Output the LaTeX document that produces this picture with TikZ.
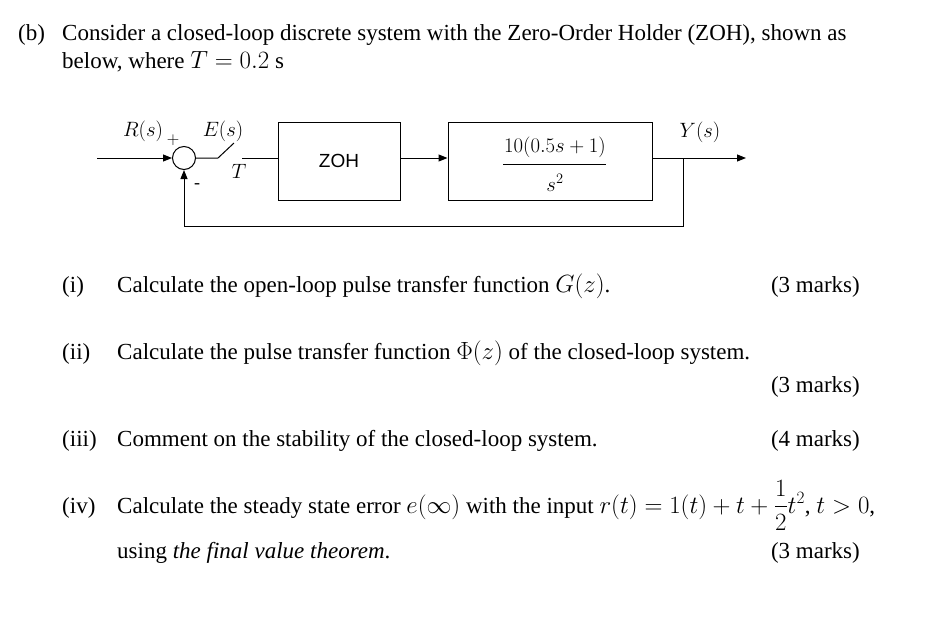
\documentclass[tikz,border=0pt]{standalone}
\usepackage{fontspec}
\usepackage{amsmath}
\setmainfont{Liberation Serif}
\newfontfamily\sansf{Liberation Sans}
\usetikzlibrary{arrows.meta}
\begin{document}
\begin{tikzpicture}
		[x=1pt, y=-1pt, every node/.style={inner sep=0pt, font=\fontsize{23}{27}\selectfont},
		blk/.style={draw, line width=1pt, minimum width=122pt, minimum height=78pt},
		sig/.style={line width=1pt, -{Triangle[length=9pt, width=7pt]}},
		wire/.style={line width=1pt}]
		\useasboundingbox (0,0) rectangle (950,627);
		% question text
		\node[anchor=base west] (qb) at (18,40) {(b)};
		\node[anchor=base west] (q1) at (62,40) {Consider a closed-loop discrete system with the Zero-Order Holder (ZOH), shown as};
		\node[anchor=base west] (q2) at (62,68) {below, where $T=0.2$ s};
		
		% block diagram
		\coordinate (in) at (97,158);
		\node[circle, draw, line width=1pt, minimum size=23pt] (sum) at (184,158) {};
		\coordinate (sw1) at (218,158);
		\coordinate (sw2) at (234,143);
		\coordinate (sw3) at (242,158);
		\node[blk, font=\sansf\fontsize{19}{22}\selectfont] (zoh) at (339,161) {ZOH};
		\node[blk, minimum width=204pt] (plant) at (550,161) {};
		\node (num) at (555,147) {\fontsize{21}{24}\selectfont$10(0.5s+1)$};
		\node (den) at (555,183) {\fontsize{20}{24}\selectfont$s^2$};
		\coordinate (fb) at (683,158);
		\coordinate (out) at (746,158);
		\coordinate (fb1) at (683,226);
		\coordinate (fb2) at (184,226);
		\draw[line width=0.8pt] (503,164) -- (606,164);
		
		\node (rlab) at (143,131) {\fontsize{21}{24}\selectfont$R(s)$};
		\node (plus) at (173,140) {\fontsize{18}{20}\selectfont$+$};
		\node (elab) at (223,131) {\fontsize{21}{24}\selectfont$E(s)$};
		\node (tlab) at (239,171) {\fontsize{21}{24}\selectfont$T$};
		\node (ylab) at (700,132) {\fontsize{21}{24}\selectfont$Y(s)$};
		\node (minus) at (197,186) {\fontsize{18}{20}\selectfont-};
		
		\draw[sig] (in) -- (sum.west);
		\draw[wire] (sum.east) -- (sw1) -- (sw2);
		\draw[wire] (sw3) -- (zoh.west |- sw3);
		\draw[sig] (zoh.east |- sw3) -- (plant.west |- sw3);
		\draw[sig] (plant.east |- sw3) -- (out);
		\draw[sig] (fb) -- (fb1) -- (fb2) -- (sum.south);
		
		% parts
		\node[anchor=base west] (pi) at (62,292) {(i)};
		\node[anchor=base west] (ti) at (117,292) {Calculate the open-loop pulse transfer function $G(z)$.};
		\node[anchor=base east] (mi) at (860,292) {(3 marks)};
		\node[anchor=base west] (pii) at (62,359) {(ii)};
		\node[anchor=base west] (tii) at (117,359) {Calculate the pulse transfer function $\Phi(z)$ of the closed-loop system.};
		\node[anchor=base east] (mii) at (860,392) {(3 marks)};
		\node[anchor=base west] (piii) at (62,446) {(iii)};
		\node[anchor=base west] (tiii) at (117,446) {Comment on the stability of the closed-loop system.};
		\node[anchor=base east] (miii) at (860,446) {(4 marks)};
		\node[anchor=base west] (piv) at (62,513) {(iv)};
		\node[anchor=base west] (tiv) at (117,513) {Calculate the steady state error $e(\infty)$ with the input $r(t)=1(t)+t+\dfrac{1}{2}t^2$, $t>0$,};
		\node[anchor=base west] (tiv2) at (117,558) {using \textit{the final value theorem}.};
		\node[anchor=base east] (miv) at (860,558) {(3 marks)};
		\end{tikzpicture}
\end{document}
